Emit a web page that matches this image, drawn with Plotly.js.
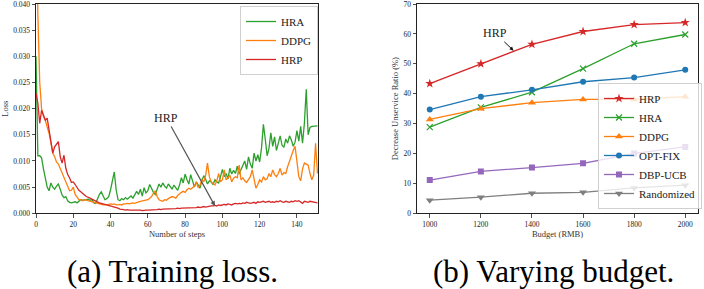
<!DOCTYPE html>
<html>
<head>
<meta charset="utf-8">
<script src="https://cdn.plot.ly/plotly-3.0.1.min.js"></script>
<style>html,body{margin:0;padding:0;background:#fff;}#chart{width:704px;height:289px;}</style>
</head>
<body>
<div id="chart"></div>
<script>
// ---- Left chart: training loss (values in 1e-3) ----
const hraLoss = [30,11.0,11.0,10.6,8.5,6.5,5.0,4.3,5.8,5.0,4.6,5.2,5.6,4.6,3.5,3.0,3.2,2.4,2.1,2.0,2.1,2.2,2.0,2.4,2.6,2.5,2.5,2.6,2.7,2.5,2.6,2.0,1.9,2.8,3.6,4.1,3.2,2.6,2.8,3.2,4.5,6.2,7.9,4.5,2.6,2.4,2.8,2.6,3.0,2.7,3.1,3.3,2.9,3.5,4.2,3.6,4.6,3.3,4.9,3.9,4.3,5.5,4.6,4.0,3.6,4.8,5.6,5.0,5.8,5.2,4.8,5.6,5.0,4.6,5.4,5.0,4.4,5.4,6.8,5.8,7.5,6.4,5.6,7.4,6.0,5.0,6.0,5.4,4.8,6.2,7.2,6.5,5.6,6.2,6.0,5.5,6.4,6.0,5.8,7.0,8.4,7.0,7.6,6.6,8.6,7.5,8.2,7.6,9.0,7.5,8.4,9.0,10.0,8.4,10.8,9.4,8.6,11.5,10.0,11.2,9.8,12.5,17.0,14.2,11.0,12.4,15.4,12.8,14.6,12.0,13.4,14.8,13.0,12.6,14.2,13.4,14.8,14.0,12.8,13.6,15.8,13.8,16.6,13.4,17.2,23.7,15.0,16.4,16.6,16.6,16.7,16.7];
const ddpgLoss = [60,38,25,20,18.5,17.8,16.5,15.3,13.5,11.5,10.8,9.8,9.4,8.6,7.8,6.8,6.0,5.2,4.3,4.4,5.0,3.6,3.0,2.6,2.6,2.4,2.6,2.5,2.4,2.3,2.2,2.1,2.0,1.8,1.8,1.7,1.6,1.6,1.6,1.7,1.8,1.7,1.8,1.6,1.6,1.7,1.6,1.8,1.8,1.9,1.8,1.9,2.0,1.9,2.1,2.2,2.3,2.4,2.5,2.6,2.6,2.9,3.2,3.8,4.3,3.2,2.6,2.4,2.3,2.6,2.5,2.8,3.0,3.2,3.1,2.9,3.4,3.8,4.0,4.2,4.0,4.5,4.8,4.6,5.0,5.2,6.0,5.0,5.4,6.4,6.0,7.2,9.6,7.0,6.0,5.6,5.4,6.2,7.6,6.0,6.4,8.3,6.4,6.8,7.3,6.0,6.7,7.0,6.8,9.2,6.4,6.8,6.2,5.9,6.6,7.0,8.3,6.5,4.8,5.5,6.4,6.0,7.0,6.4,6.6,7.6,7.0,8.3,7.4,7.0,7.6,8.6,7.3,7.8,7.6,8.9,10.0,11.1,12.0,12.8,9.6,7.0,6.2,8.5,9.6,9.4,9.2,7.6,6.4,7.3,13.4,7.6];
const hrpLoss = [22.9,21.0,17.2,19.7,18.8,17.8,18.2,15.9,14.0,11.5,12.7,13.2,13.7,10.8,9.6,11.1,8.6,7.4,6.8,5.9,6.0,5.5,4.8,4.4,4.1,3.7,3.5,3.2,3.1,2.9,2.7,2.5,2.3,2.2,2.0,1.9,1.8,1.7,1.6,1.5,1.4,1.3,1.3,1.1,1.0,0.8,0.8,0.7,0.6,0.7,0.6,0.6,0.6,0.7,0.6,0.6,0.6,0.5,0.6,0.6,0.6,0.6,0.7,0.6,0.7,0.7,0.8,0.7,0.8,0.8,0.8,0.9,0.8,0.9,0.9,0.9,1.0,0.9,1.0,1.0,1.1,1.0,1.0,1.1,1.1,1.0,1.1,1.2,1.1,1.2,1.3,1.2,1.3,1.3,1.4,1.4,1.5,1.4,1.6,1.5,1.6,1.7,1.6,1.8,1.7,1.6,1.8,1.9,1.8,1.9,1.8,2.0,1.9,2.1,2.0,1.9,2.0,2.1,1.9,2.2,2.1,2.2,2.3,2.1,2.2,2.3,2.1,2.2,2.1,2.3,2.2,2.4,2.2,2.1,2.3,2.2,2.1,2.3,2.2,2.4,2.3,2.4,2.2,1.9,2.3,2.2,2.1,2.3,2.2,2.1,2.1,2.0];
const lossScale = 0.001;
const leftTickVals = [0,0.005,0.01,0.015,0.02,0.025,0.03,0.035,0.04];
const leftXTicks = [0,20,40,60,80,100,120,140];

// ---- Right chart: varying budget ----
const budgets = [1000,1200,1400,1600,1800,2000];
const hrpRatio = [43.4,50.0,56.5,60.8,63.1,63.8];
const hraRatio = [28.8,35.4,40.5,48.4,56.7,59.8];
const ddpgRatio = [31.4,35.0,37.0,38.1,38.1,39.0];
const optFixRatio = [34.7,39.0,41.3,44.0,45.4,48.0];
const dbpUcbRatio = [11.1,14.0,15.3,16.7,20.0,22.2];
const randomRatio = [4.4,5.4,6.7,7.0,8.5,9.4];

const C = {red:'#d62728', green:'#2ca02c', orange:'#ff7f0e', blue:'#1f77b4', purple:'#9467bd', gray:'#7f7f7f'};
const steps = hraLoss.map((_, i) => i);
const sc = a => a.map(v => v * lossScale);
const SERIF = 'Liberation Serif';

function lossTrace(name, vals, color){
  return {x: steps, y: sc(vals), name: name, type:'scatter', mode:'lines',
    line:{color:color, width:1.3}, xaxis:'x', yaxis:'y', legend:'legend'};
}
function budTrace(name, vals, color, sym, size){
  return {x: budgets, y: vals, name: name, type:'scatter', mode:'lines+markers',
    line:{color:color, width:1.3}, marker:{color:color, symbol:sym, size:size, line:{color:color, width: sym.indexOf('x')===0?1.2:0}},
    xaxis:'x2', yaxis:'y2', legend:'legend2'};
}

const data = [
  lossTrace('HRA', hraLoss, C.green),
  lossTrace('DDPG', ddpgLoss, C.orange),
  lossTrace('HRP', hrpLoss, C.red),
  budTrace('HRP', hrpRatio, C.red, 'star', 7),
  budTrace('HRA', hraRatio, C.green, 'x-thin-open', 6),
  budTrace('DDPG', ddpgRatio, C.orange, 'triangle-up', 7),
  budTrace('OPT-FIX', optFixRatio, C.blue, 'circle', 6),
  budTrace('DBP-UCB', dbpUcbRatio, C.purple, 'square', 6),
  budTrace('Randomized', randomRatio, C.gray, 'triangle-down', 7)
];

const axisCommon = {showline:true, mirror:true, linecolor:'#222', linewidth:1, ticks:'outside',
  ticklen:3.5, tickwidth:0.8, tickcolor:'#222', showgrid:false, zeroline:false, ticklabeloverflow:'allow',
  tickfont:{family:SERIF, size:7.5, color:'#222'}};

const yDom = [(289-213.3)/289, (289-4)/289];
const layout = {
  width:704, height:289, margin:{l:0,r:0,t:0,b:0},
  paper_bgcolor:'#fff', plot_bgcolor:'#fff', showlegend:true,
  font:{family:SERIF},
  xaxis: Object.assign({}, axisCommon, {domain:[36/704, 318/704], range:[0,151.3], tickvals:leftXTicks,
    title:{text:'Number of steps', font:{family:SERIF, size:8.5, color:'#333'}, standoff:3}, anchor:'y'}),
  yaxis: Object.assign({}, axisCommon, {domain:yDom, range:[0,0.04], tickvals:leftTickVals, tickformat:'.3f',
    title:{text:'Loss', font:{family:SERIF, size:8.5, color:'#333'}, standoff:3}, anchor:'x'}),
  xaxis2: Object.assign({}, axisCommon, {domain:[417/704, 698/704], range:[950,2050], tickvals:budgets,
    title:{text:'Budget (RMB)', font:{family:SERIF, size:8.5, color:'#333'}, standoff:3}, anchor:'y2'}),
  yaxis2: Object.assign({}, axisCommon, {domain:yDom, range:[0,70], dtick:10,
    title:{text:'Decrease Unservice Ratio (%)', font:{family:SERIF, size:8.5, color:'#333'}, standoff:3}, anchor:'x2'}),
  legend: {x:240/704, y:(289-6)/289, xanchor:'left', yanchor:'top', bgcolor:'rgba(255,255,255,0.8)',
    bordercolor:'#d0d0d0', borderwidth:1, font:{family:SERIF, size:11, color:'#222'}, itemwidth:30, tracegroupgap:0},
  legend2: {x:598/704, y:(289-209)/289, xanchor:'left', yanchor:'bottom', bgcolor:'rgba(255,255,255,0.8)',
    bordercolor:'#d0d0d0', borderwidth:1, font:{family:SERIF, size:11, color:'#222'}, itemwidth:30, tracegroupgap:0},
  annotations: [
    {xref:'x', yref:'y', axref:'x', ayref:'y', x:96, y:0.0014, ax:70, ay:0.0182, text:'HRP',
     font:{family:SERIF, size:12, color:'#222'}, showarrow:true, arrowhead:2, arrowsize:0.8, arrowwidth:1.2,
     arrowcolor:'#555', standoff:0},
    {xref:'x2', yref:'y2', axref:'x2', ayref:'y2', x:1328, y:54.4, ax:1257, ay:60.2, text:'HRP',
     font:{family:SERIF, size:12, color:'#222'}, showarrow:true, arrowhead:2, arrowsize:0.8, arrowwidth:1,
     arrowcolor:'#111', standoff:0},
    {xref:'paper', yref:'paper', x:172.5/704, y:(289-271)/289, xanchor:'center', yanchor:'middle',
     text:'(a) Training loss.', showarrow:false, font:{family:SERIF, size:31, color:'#000'}},
    {xref:'paper', yref:'paper', x:553/704, y:(289-271)/289, xanchor:'center', yanchor:'middle',
     text:'(b) Varying budget.', showarrow:false, font:{family:SERIF, size:31, color:'#000'}}
  ]
};

Plotly.newPlot('chart', data, layout, {staticPlot:true, displayModeBar:false});
</script>
</body>
</html>
